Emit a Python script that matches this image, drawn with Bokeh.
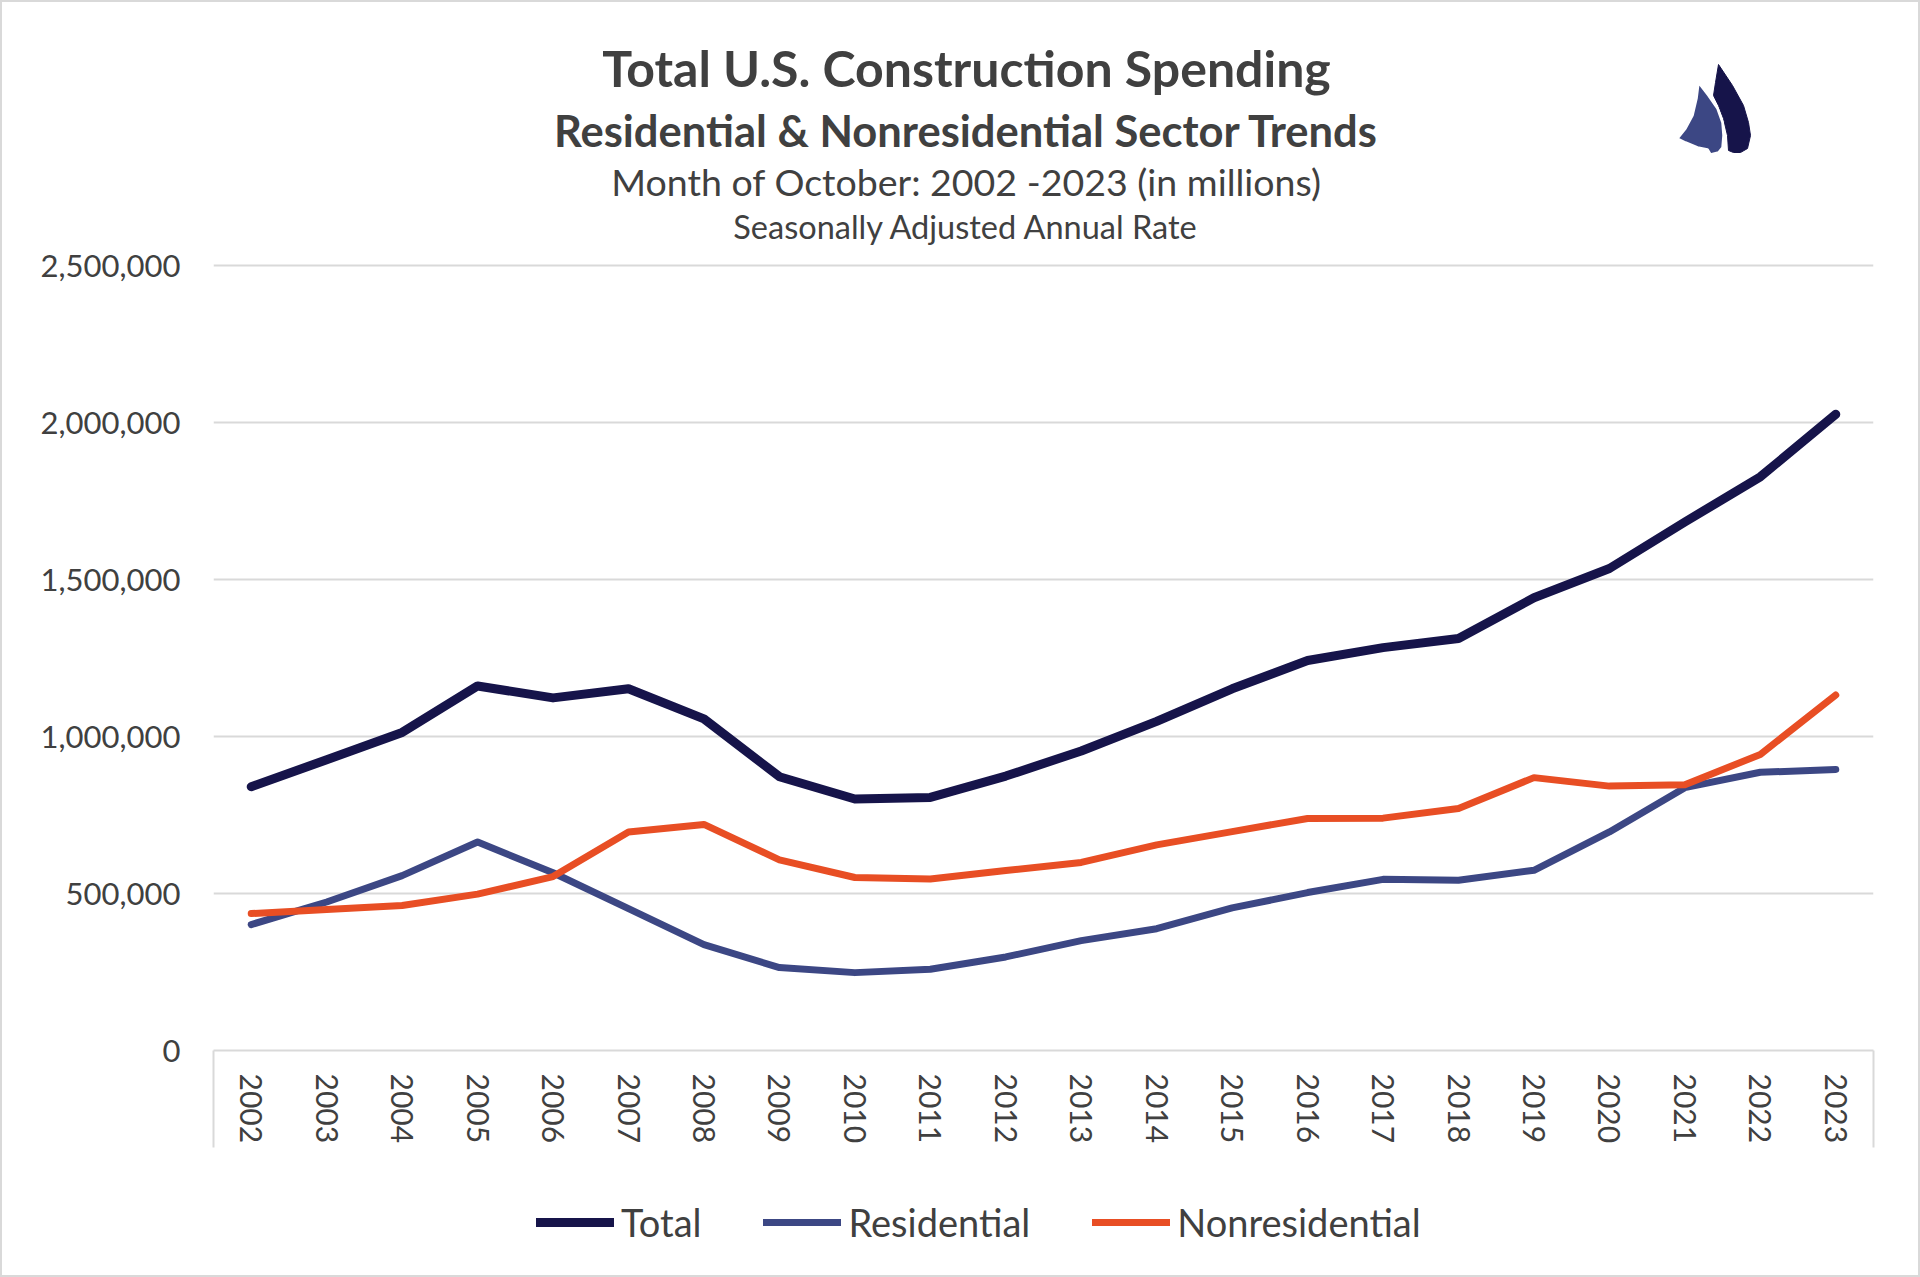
import math
from bokeh.plotting import figure
from bokeh.layouts import column
from bokeh.models import (Range1d, FixedTicker, NumeralTickFormatter,
                          Label, Legend, LegendItem)
from bokeh.embed import file_html
from bokeh.resources import INLINE

# ---- data (USD millions, SAAR, October of each year) ----
years = list(range(2002, 2024))
total = [840000, 926000, 1013000, 1161000, 1123000, 1152000, 1056000, 872000,
         801000, 806000, 874000, 954000, 1048000, 1152000, 1242000, 1283000,
         1312000, 1442000, 1535000, 1683000, 1827000, 2026000]
residential = [401000, 473000, 557000, 664000, 566000, 452000, 337000, 264000,
               248000, 259000, 298000, 350000, 388000, 454000, 503000, 545000,
               542000, 574000, 696000, 837000, 886000, 895000]
nonresidential = [436000, 449000, 462000, 498000, 554000, 696000, 720000, 607000,
                  551000, 546000, 573000, 599000, 655000, 697000, 739000, 740000,
                  771000, 869000, 842000, 846000, 943000, 1132000]
y_ticks = [0, 500000, 1000000, 1500000, 2000000, 2500000]
x_labels = [str(y) for y in years]
series_names = ["Total", "Residential", "Nonresidential"]
titles = ["Total U.S. Construction Spending",
          "Residential & Nonresidential Sector Trends",
          "Month of October: 2002 -2023 (in millions)",
          "Seasonally Adjusted Annual Rate"]

C_TOTAL = "#16144A"
C_RES = "#3C4784"
C_NON = "#E84E24"
TXT = "#404040"
GRID = "#D9D9D9"
FONT = "Lato"

BW = 2                      # outer border width (css)
W = 1920 - 2 * BW
FRAME_TOP, FRAME_BOT, FRAME_L, FRAME_R = 263, 1050, 213, 1873
SPLIT1, SPLIT2 = 246, 1160  # image rows where header/main/footer meet
BOTTOM = 1277 - BW


def blank_fig(height, y0, y1):
    f = figure(width=W, height=height, x_range=Range1d(FRAME_L, FRAME_R),
               y_range=Range1d(y1, y0), output_backend="svg",
               toolbar_location=None, x_axis_type=None, y_axis_type=None,
               min_border_left=FRAME_L - BW, min_border_right=(1920 - BW) - FRAME_R,
               min_border_top=0, min_border_bottom=0)
    f.outline_line_color = None
    f.grid.visible = False
    f.background_fill_color = "white"
    f.border_fill_color = "white"
    return f


# ---------------- header: titles + logo ----------------
head = blank_fig(SPLIT1 - BW, BW, SPLIT1)
title_specs = [(67, "50px", "bold"), (129, "43.5px", "bold"),
               (181, "37.5px", "normal"), (226, "32.5px", "normal")]
for txt, (yc, size, style) in zip(titles, title_specs):
    head.add_layout(Label(x=966, y=yc, text=txt, text_align="center",
                          text_baseline="middle", text_font=FONT,
                          text_font_size=size, text_font_style=style,
                          text_color=TXT))

dark_x = [1718, 1732, 1743, 1748, 1750, 1747, 1740, 1733, 1728, 1727, 1723, 1718, 1713, 1715]
dark_y = [64, 85, 105, 122, 135, 148, 152, 152, 150, 135, 118, 105, 95, 82]
light_x = [1698, 1708, 1717, 1722, 1723, 1722, 1718, 1710, 1707, 1697, 1685, 1677,
           1685, 1692, 1696]
light_y = [82, 95, 108, 122, 135, 147, 152, 154, 149, 147, 142, 138, 128, 115, 98]
head.patch(dark_x, dark_y, fill_color=C_TOTAL, line_color=C_TOTAL, line_width=1)
head.patch(light_x, light_y, fill_color=C_RES, line_color="white", line_width=2.5)

# ---------------- main chart ----------------
px_per_unit = (FRAME_BOT - 265) / 2500000.0
y_top = (FRAME_BOT - FRAME_TOP) / px_per_unit

p = figure(width=W, height=SPLIT2 - SPLIT1,
           x_range=Range1d(years[0] - 0.5, years[-1] + 0.5),
           y_range=Range1d(0, y_top), output_backend="svg",
           toolbar_location=None,
           min_border_left=FRAME_L - BW, min_border_right=(1920 - BW) - FRAME_R,
           min_border_top=FRAME_TOP - SPLIT1, min_border_bottom=SPLIT2 - FRAME_BOT)
p.outline_line_color = None
p.background_fill_color = "white"
p.border_fill_color = "white"

p.xgrid.visible = False
p.ygrid.grid_line_color = GRID
p.ygrid.grid_line_width = 2
p.ygrid.ticker = FixedTicker(ticks=y_ticks)

ya = p.yaxis[0]
ya.ticker = FixedTicker(ticks=y_ticks)
ya.formatter = NumeralTickFormatter(format="0,0")
ya.axis_line_color = None
ya.major_tick_line_color = None
ya.minor_tick_line_color = None
ya.major_tick_out = 0
ya.major_tick_in = 0
ya.major_label_standoff = 33
ya.major_label_text_font = FONT
ya.major_label_text_font_size = "31px"
ya.major_label_text_color = TXT

xa = p.xaxis[0]
xa.ticker = FixedTicker(ticks=years, minor_ticks=[years[0] - 0.5, years[-1] + 0.5])
xa.major_label_overrides = {y: s for y, s in zip(years, x_labels)}
xa.axis_line_color = GRID
xa.axis_line_width = 2
xa.major_tick_line_color = None
xa.major_tick_out = 0
xa.major_tick_in = 0
xa.minor_tick_line_color = GRID
xa.minor_tick_line_width = 2
xa.minor_tick_out = 97
xa.minor_tick_in = 0
xa.major_label_orientation = -math.pi / 2
xa.major_label_standoff = -74
xa.major_label_text_font = FONT
xa.major_label_text_font_size = "30px"
xa.major_label_text_color = TXT

line_kw = dict(line_cap="round", line_join="round")
styles = [dict(line_color=C_TOTAL, line_width=9),
          dict(line_color=C_RES, line_width=7),
          dict(line_color=C_NON, line_width=7)]
series = [total, residential, nonresidential]
for vals, st in zip(series, styles):
    p.line(years, vals, **st, **line_kw)

# ---------------- footer: legend ----------------
foot = blank_fig(BOTTOM - SPLIT2, SPLIT2, BOTTOM)
# same series in the footer (they fall outside its view) so the legend has glyphs
foot_r = [foot.line(years, vals, **st, **line_kw) for vals, st in zip(series, styles)]
legend = Legend(items=[LegendItem(label=n, renderers=[r])
                       for n, r in zip(series_names, foot_r)],
                orientation="horizontal", location=(536 - FRAME_L, BOTTOM - 1245),
                glyph_width=78, glyph_height=32, label_height=32,
                label_standoff=7, spacing=62, padding=0, margin=0,
                border_line_color=None, background_fill_alpha=0,
                label_text_font=FONT, label_text_font_size="38px",
                label_text_color=TXT)
foot.add_layout(legend)

layout = column(head, p, foot, spacing=0,
                styles={"border": f"{BW}px solid {GRID}"})

open("out.html", "w").write(file_html(layout, INLINE))
